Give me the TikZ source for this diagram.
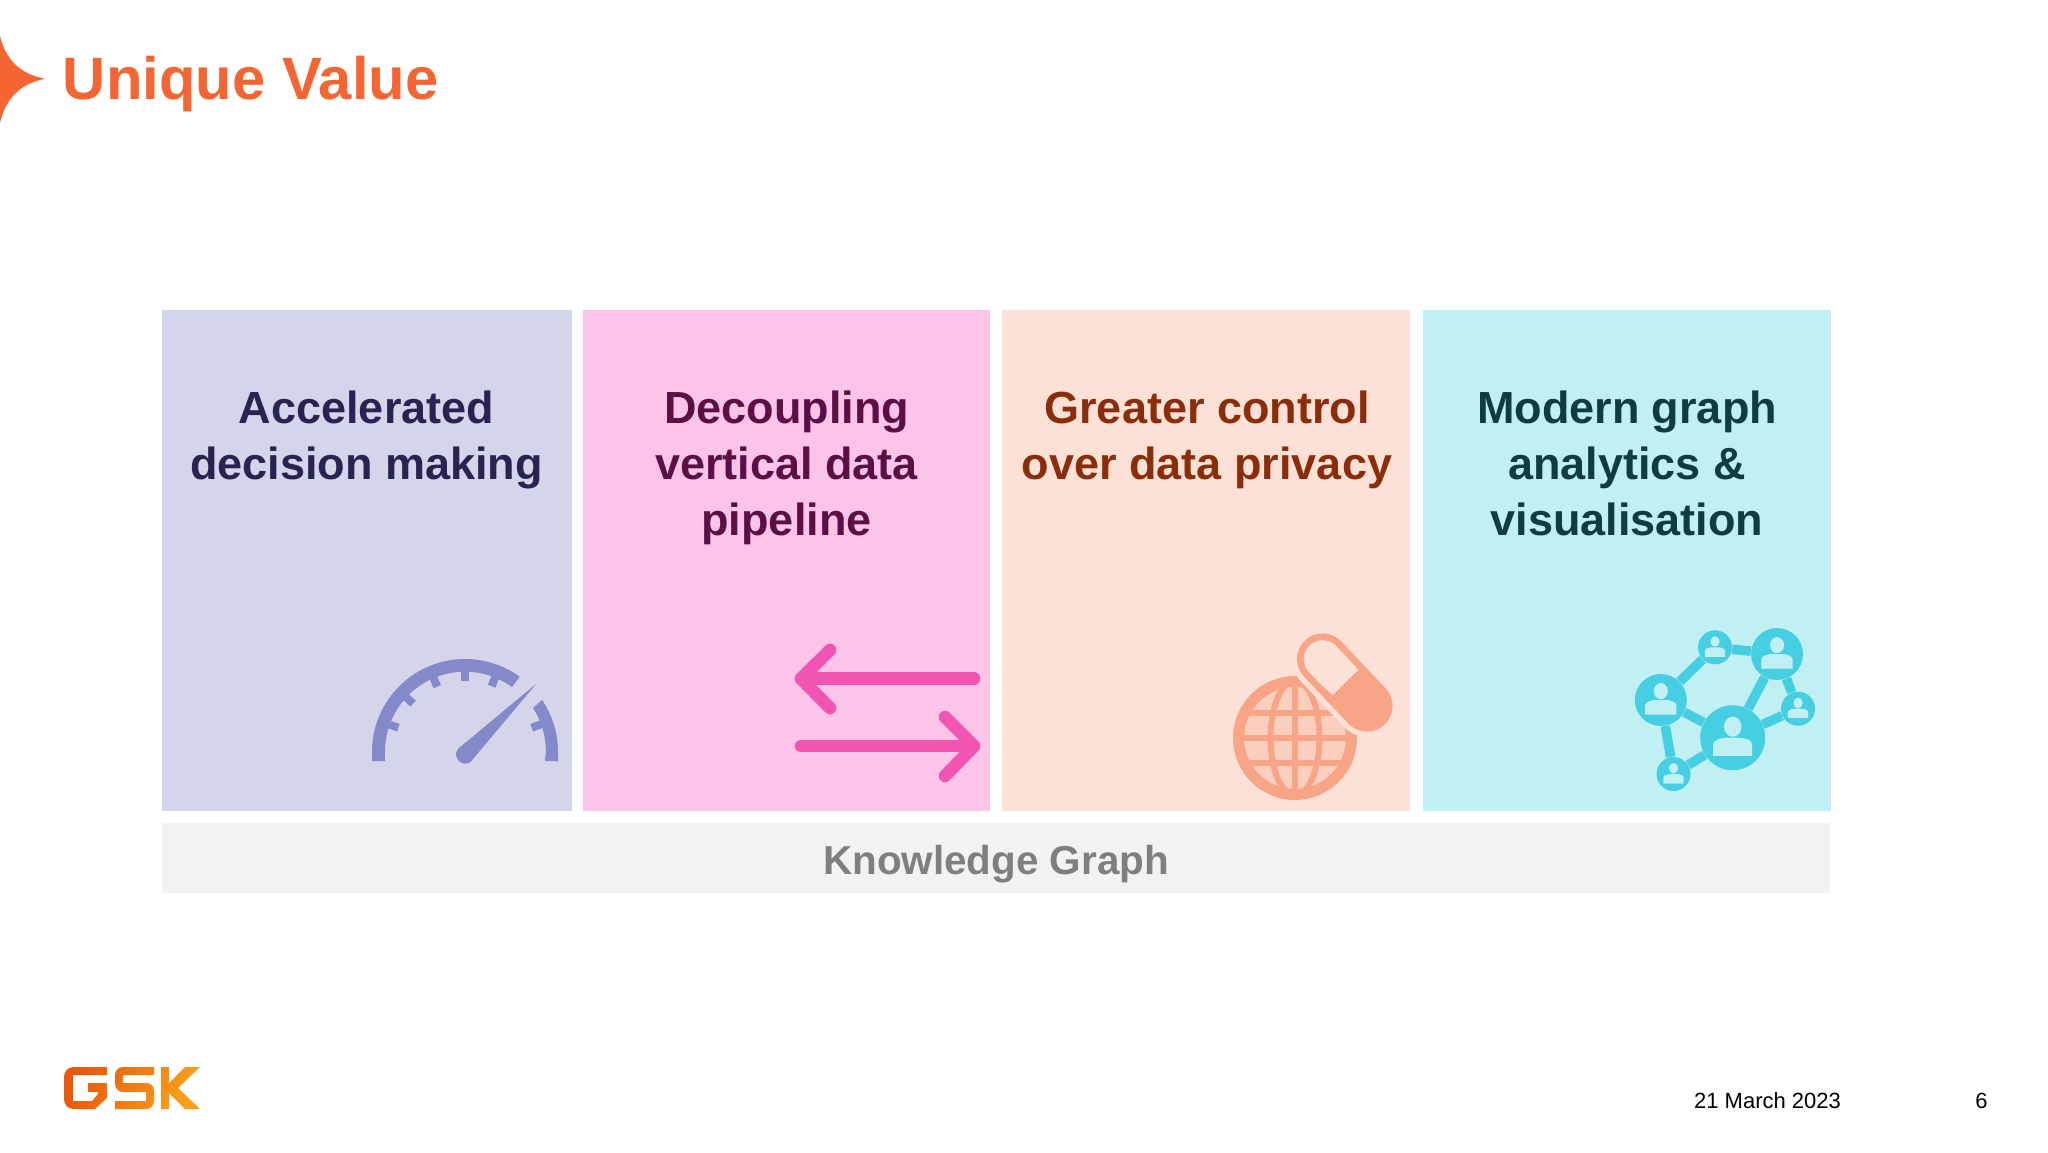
\documentclass[tikz,border=0pt]{standalone}
\usepackage{fontspec}
\setmainfont{Liberation Sans}
\definecolor{orangeT}{HTML}{F36633}
\definecolor{boxA}{HTML}{D4D5EB}
\definecolor{boxB}{HTML}{FCC4E8}
\definecolor{boxC}{HTML}{FDE0D6}
\definecolor{boxD}{HTML}{C1F0F3}
\definecolor{barC}{HTML}{F2F2F4}
\definecolor{icA}{HTML}{8389C9}
\definecolor{icB}{HTML}{F254B2}
\definecolor{icC}{HTML}{F8A487}
\definecolor{icD}{HTML}{46CEE3}
\definecolor{txA}{HTML}{2A2250}
\definecolor{txB}{HTML}{5C0F45}
\definecolor{txC}{HTML}{8A2D0B}
\definecolor{txD}{HTML}{0B3D42}
\definecolor{txG}{HTML}{7F7F7F}
\definecolor{gskA}{HTML}{F9A01B}
\definecolor{gskB}{HTML}{E8590C}
\tikzset{
  panel/.style={fill=#1,draw=none},
  head/.style={anchor=north,align=center,inner sep=0pt,text=#1,font=\fontsize{22.5}{28}\selectfont\bfseries},
  netnode/.style={circle,fill=icD,inner sep=0pt,minimum size=#1},
  netedge/.style={draw=icD,line width=4.8pt},
  arrowline/.style={draw=icB,line width=6.3pt,line cap=round,line join=round},
  foot/.style={inner sep=0pt,font=\fontsize{11}{13}\selectfont,text=black}
}
\begin{document}
\begin{tikzpicture}[x=0.5pt,y=-0.5pt]
\useasboundingbox (0,0) rectangle (2048,1152);
\fill[white] (0,0) rectangle (2048,1152);
% star
\fill[orangeT] (0,36) .. controls (6,60) and (20,74) .. (45,78.7) .. controls (20,84) and (6,98) .. (0,123) -- cycle;
\node[anchor=base west,inner sep=0pt,text=orangeT,font=\fontsize{29.9}{36}\selectfont\bfseries] (title) at (62.5,99) {Unique Value};
% panels
\fill[panel=boxA] (162,309.5) rectangle (572,810.5);
\fill[panel=boxB] (582.5,309.5) rectangle (990,810.5);
\fill[panel=boxC] (1002,309.5) rectangle (1410,810.5);
\fill[panel=boxD] (1423,309.5) rectangle (1831,810.5);
\fill[panel=barC] (162,823) rectangle (1830,893);
\node[head=txA] (ta) at (366.5,383.5) {\strut Accelerated\\decision making};
\node[head=txB] (tb) at (786.5,383.5) {\strut Decoupling\\vertical data\\pipeline};
\node[head=txC] (tc) at (1207,383.5) {\strut Greater control\\over data privacy};
\node[head=txD] (td) at (1627,383.5) {\strut Modern graph\\analytics \&\\visualisation};
\node[inner sep=0pt,text=txG,font=\fontsize{20.2}{24}\selectfont\bfseries] (kg) at (996,864) {Knowledge Graph};
% gauge
\begin{scope}[shift={(465,752)},x=0.5pt,y=0.5pt]
  \fill[icA] (-93,-9) -- (-93,0) arc[start angle=180,end angle=54,radius=93] -- (47,65) arc[start angle=54,end angle=180,radius=80] -- (-80,-9) -- cycle;
  \fill[icA] (93,-9) -- (93,0) arc[start angle=0,end angle=34,radius=93] -- (68,44) arc[start angle=33,end angle=0,radius=80] -- (80,-9) -- cycle;
  \foreach \a in {20,68,90,113,137,160}{
    \draw[icA,line width=4pt] (\a:71) -- (\a:84);
  }
  \fill[icA] (71,68) -- (8,-7) .. controls (4,-14) and (-5,-13) .. (-8,-6) .. controls (-10,-2) and (-9,1) .. (-6,4) -- cycle;
\end{scope}
% arrows
\draw[arrowline] (974,678.7) -- (801,678.7);
\draw[arrowline] (830,650) -- (801,678.7) -- (830,708);
\draw[arrowline] (801,746) -- (973,746);
\draw[arrowline] (945,717) -- (974,746) -- (945,776);
% globe
\fill[boxC!70!icC] (1295,738) circle[radius=56*0.5pt];
\draw[icC,line width=5.5pt] (1295,738) circle[radius=56.5*0.5pt];
\draw[icC,line width=3pt] (1295,738) ellipse[x radius=24.5*0.5pt,y radius=57*0.5pt];
\draw[icC,line width=3pt] (1295,681) -- (1295,795);
\draw[icC,line width=3pt] (1243,713.3) -- (1345,713.3);
\draw[icC,line width=3pt] (1238,738.3) -- (1352,738.3);
\draw[icC,line width=3pt] (1243,762.7) -- (1347,762.7);
% pill
\draw[boxC,line width=31pt,line cap=round] (1322.6,659) -- (1367,706);
\draw[icC,line width=25.6pt,line cap=round] (1322.6,659) -- (1367,706);
\begin{scope}
  \clip (1358,670) -- (1332.7,695) -- (1270,640) -- (1320,600) -- cycle;
  \draw[boxC,line width=18.8pt,line cap=round] (1322.6,659) -- (1367,706);
\end{scope}
% network
\node[netnode=32.5pt] (na) at (1732.7,737.7) {};
\node[netnode=26pt] (nb) at (1660.8,700) {};
\node[netnode=17pt] (nc) at (1715,647.3) {};
\node[netnode=26pt] (nd) at (1777,654) {};
\node[netnode=17pt] (ne) at (1798,708.7) {};
\node[netnode=17pt] (nf) at (1673.5,774) {};
\draw[netedge] (nc) -- (nb);
\draw[netedge] (nc) -- (nd);
\draw[netedge] (nb) -- (na);
\draw[netedge] (nb) -- (nf);
\draw[netedge] (nf) -- (na);
\draw[netedge] (na) -- (nd);
\draw[netedge] (nd) -- (ne);
\draw[netedge] (ne) -- (na);
\foreach \n/\r in {na/32.5,nb/26,nc/17,nd/26,ne/17,nf/17}{
  \begin{scope}[shift={(\n.center)},scale=\r]
    \fill[boxD] (0,-.34) ellipse (.27 and .31);
    \fill[boxD] (-.6,.56) -- (-.6,.2) .. controls (-.6,.05) and (-.3,0) .. (-.2,0) -- (.2,0) .. controls (.3,0) and (.6,.05) .. (.6,.2) -- (.6,.56) -- cycle;
  \end{scope}
}
% logo
\path[shading=axis,left color=gskB,right color=gskA,shading angle=60]
 (107,1067) -- (74,1067) .. controls (68,1067) and (64,1071) .. (64,1077) -- (64,1099) .. controls (64,1105) and (68,1109) .. (74,1109) -- (95,1109) -- (107,1098) -- (107,1083) -- (88,1083) -- (88,1092) -- (98,1092) -- (98,1094) -- (92,1101) -- (73,1101) -- (73,1075) -- (107,1075) -- cycle
 (154,1067) -- (123,1067) .. controls (118,1067) and (115,1071) .. (115,1075) -- (115,1083) .. controls (115,1088) and (118,1092) .. (123,1092) -- (146,1092) -- (146,1101) -- (115,1101) -- (115,1109) -- (146,1109) .. controls (151,1109) and (154,1105) .. (154,1101) -- (154,1091) .. controls (154,1086) and (151,1083) .. (146,1083) -- (123,1083) -- (123,1075) -- (154,1075) -- cycle
 (161,1067) -- (169,1067) -- (169,1083) -- (185,1067) -- (200,1067) -- (178,1088) -- (200,1109) -- (185,1109) -- (169,1093) -- (169,1109) -- (161,1109) -- cycle;
\node[foot] (date) at (1767.5,1101) {21 March 2023};
\node[foot] (page) at (1981.5,1101) {6};
\end{tikzpicture}
\end{document}
